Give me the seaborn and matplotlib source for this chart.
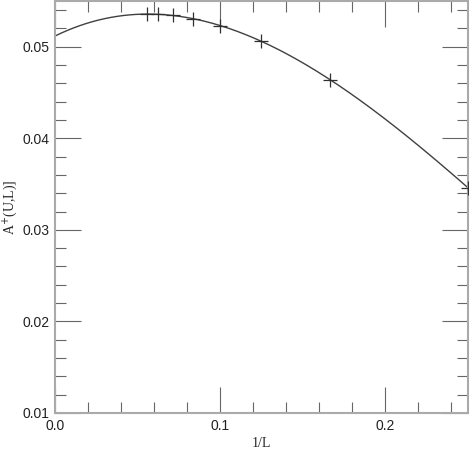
import numpy as np
import pandas as pd
import matplotlib
matplotlib.use('Agg')
import matplotlib.pyplot as plt
from matplotlib.ticker import MultipleLocator
import seaborn as sns

# data: 1/L for L = 18,16,14,12,10,8,6,4
inv_L = [1 / 18, 1 / 16, 1 / 14, 1 / 12, 1 / 10, 1 / 8, 1 / 6, 1 / 4]
A_plus = [0.05353, 0.05357, 0.05342, 0.05306, 0.05230, 0.05058, 0.04639, 0.03461]


def main():
    df = pd.DataFrame({'invL': inv_L, 'A': A_plus})

    # polynomial fit in 1/L, extrapolated to 1/L = 0
    coef = np.polyfit(df['invL'], df['A'], 3)
    xs = np.linspace(0, 0.25, 200)
    fit = pd.DataFrame({'invL': xs, 'A': np.polyval(coef, xs)})

    sns.set_style('ticks')
    plt.rcParams['font.family'] = ['Liberation Sans', 'DejaVu Sans']

    fig = plt.figure(figsize=(4.74, 4.51), dpi=100)
    ax = fig.add_axes([0.116, 0.0843, 0.871, 0.9137])

    sns.lineplot(data=fit, x='invL', y='A', ax=ax, color='#404040', lw=1.0)
    sns.scatterplot(data=df, x='invL', y='A', ax=ax, marker='+', s=90,
                    color='#303030', linewidth=0.9, zorder=3)

    ax.set_xlim(0, 0.25)
    ax.set_ylim(0.01, 0.055)
    ax.xaxis.set_major_locator(MultipleLocator(0.1))
    ax.xaxis.set_minor_locator(MultipleLocator(0.02))
    ax.yaxis.set_major_locator(MultipleLocator(0.01))
    ax.yaxis.set_minor_locator(MultipleLocator(0.002))
    ax.xaxis.set_major_formatter(plt.FormatStrFormatter('%.1f'))
    ax.yaxis.set_major_formatter(plt.FormatStrFormatter('%.2f'))

    ax.tick_params(which='both', direction='in', top=True, right=True,
                   color='#666666', labelsize=10, labelcolor='#222222')
    ax.tick_params(which='major', length=19, width=0.8, pad=4)
    ax.tick_params(which='minor', length=8, width=0.8)
    for s in ax.spines.values():
        s.set_color('#aaaaaa')
        s.set_linewidth(1.5)

    ax.set_xlabel('1/L', family='Liberation Serif', fontsize=10, labelpad=3)
    ax.set_ylabel('A$^{+}$(U,L)]', family='Liberation Serif', fontsize=10,
                  va='center', rotation_mode='default')
    ax.yaxis.set_label_coords(-0.108, 0.5)

    plt.savefig('out.png', dpi=100)


if __name__ == '__main__':
    main()
